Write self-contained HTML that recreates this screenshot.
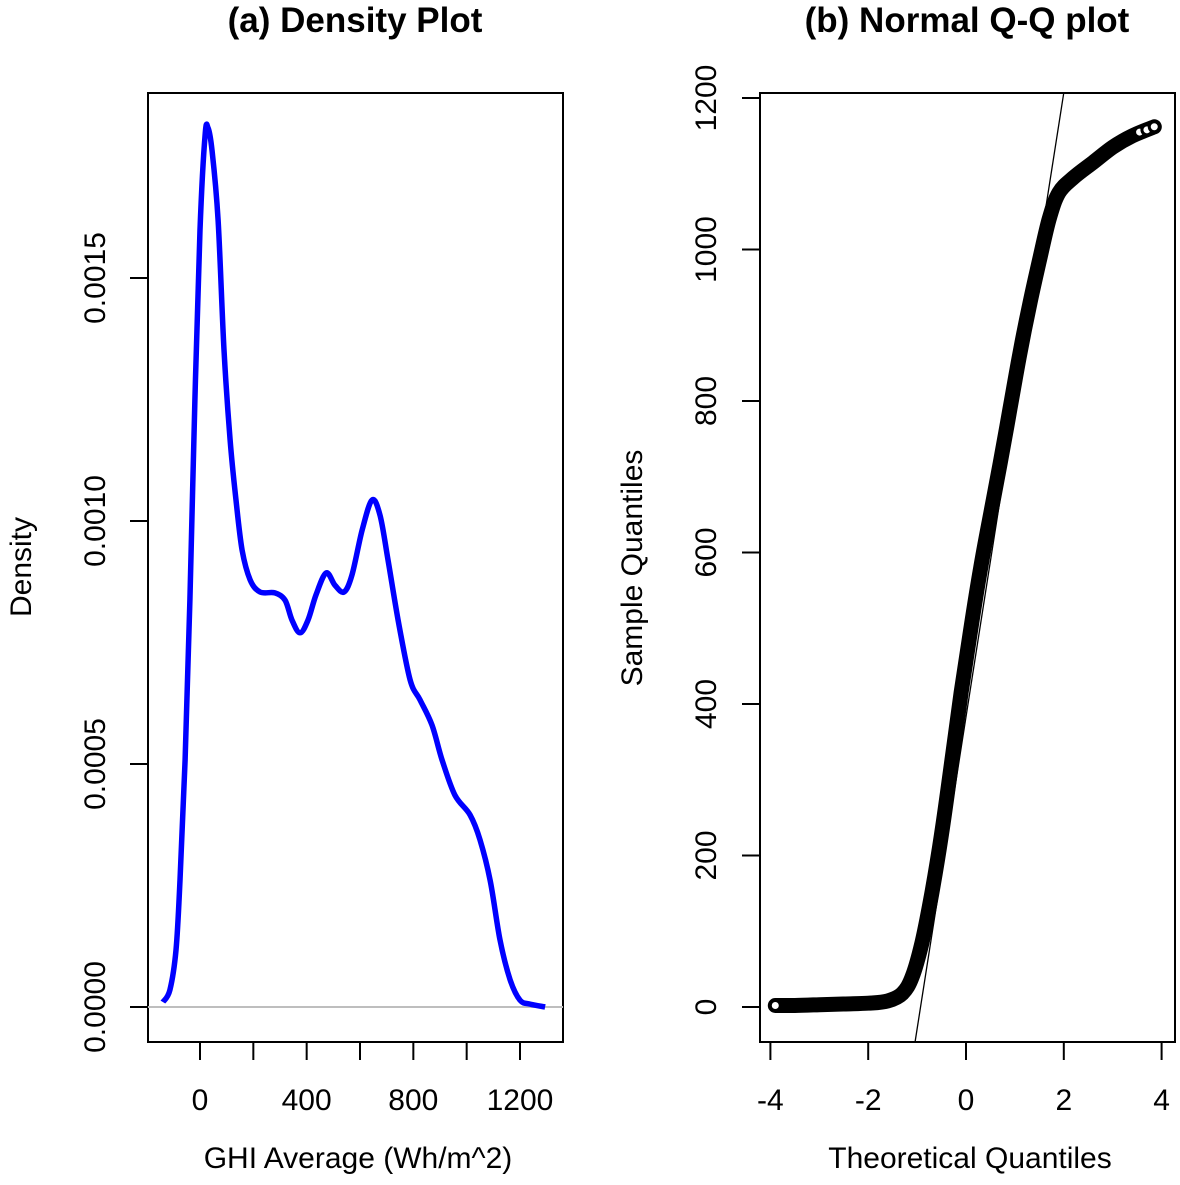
<!DOCTYPE html>
<html><head><meta charset="utf-8"><style>
body{margin:0;background:#fff}
svg text{font-family:"Liberation Sans",Arial,sans-serif;fill:#000}
</style></head><body>
<svg id="c" width="1180" height="1180" viewBox="0 0 1180 1180" xmlns="http://www.w3.org/2000/svg">
<rect width="1180" height="1180" fill="#fff"/>
<text x="355" y="32" font-size="35" font-weight="bold" text-anchor="middle">(a) Density Plot</text>
<text x="967" y="32" font-size="35" font-weight="bold" text-anchor="middle">(b) Normal Q-Q plot</text>
<rect x="148" y="93" width="415" height="949" fill="none" stroke="#000" stroke-width="2"/>
<rect x="760" y="93" width="415" height="949" fill="none" stroke="#000" stroke-width="2"/>
<text x="358" y="1168" font-size="30" text-anchor="middle">GHI Average (Wh/m^2)</text>
<text transform="translate(31,567) rotate(-90)" font-size="30" text-anchor="middle">Density</text>
<text x="970" y="1168" font-size="30" text-anchor="middle">Theoretical Quantiles</text>
<text transform="translate(642,568) rotate(-90)" font-size="30" text-anchor="middle">Sample Quantiles</text>
<g id="L"></g><g id="R"></g>
</svg>
<script>
const ghiValues=[-139,-113,-90,-75,-56,-38,-19,0,19,30,45,68,90,113,135,158,188,225,281,319,345,375,405,435,473,506,540,570,608,645,675,705,743,788,825,870,908,956,1013,1050,1088,1125,1163,1200,1238,1294];
const densityValues=[0.10,0.35,1.17,2.61,5.08,8.37,12.49,15.99,17.94,18.09,17.63,16.19,13.52,11.67,10.43,9.40,8.79,8.54,8.52,8.37,7.96,7.70,7.96,8.48,8.93,8.68,8.54,8.89,9.81,10.43,10.12,9.20,7.96,6.73,6.32,5.80,5.08,4.36,3.95,3.44,2.61,1.38,0.56,0.14,0.06,0.0].map(v=>v*1e-4);
const densityXTicks=[0,200,400,600,800,1000,1200];
const densityXLabels=[0,400,800,1200];
const densityYTicks=[0,0.0005,0.0010,0.0015];
const densityYLabels=["0.0000","0.0005","0.0010","0.0015"];
const theoQ=[-3.9,-3.5,-3,-2.5,-2,-1.6,-1.3,-1.1,-0.9,-0.7,-0.5,-0.3,-0.1,0.1,0.3,0.5,0.7,0.9,1.1,1.3,1.5,1.7,1.9,2.2,2.6,3.0,3.4,3.85];
const sampleQ=[2,2,3,4,5,8,18,40,85,150,228,320,415,500,580,650,718,790,862,927,985,1040,1075,1095,1115,1135,1150,1162];
const endPointsX=[-3.9,3.55,3.7,3.85];
const endPointsY=[2,1155,1158,1162];
const qqXTicks=[-4,-2,0,2,4];
const qqYTicks=[0,200,400,600,800,1000,1200];
const qqLineIntercept=383, qqLineSlope=412;

const NS="http://www.w3.org/2000/svg";
function mk(t,a,p){const e=document.createElementNS(NS,t);for(const k in a)e.setAttribute(k,a[k]);p.appendChild(e);return e;}
function smooth(pts){let d='M'+pts[0][0].toFixed(1)+','+pts[0][1].toFixed(1);
for(let i=0;i<pts.length-1;i++){const p0=pts[Math.max(0,i-1)],p1=pts[i],p2=pts[i+1],p3=pts[Math.min(pts.length-1,i+2)];
const c1=[p1[0]+(p2[0]-p0[0])/6,p1[1]+(p2[1]-p0[1])/6],c2=[p2[0]-(p3[0]-p1[0])/6,p2[1]-(p3[1]-p1[1])/6];
d+=`C${c1[0].toFixed(1)},${c1[1].toFixed(1)} ${c2[0].toFixed(1)},${c2[1].toFixed(1)} ${p2[0].toFixed(1)},${p2[1].toFixed(1)}`;}return d;}
const L=document.getElementById('L'),R=document.getElementById('R');
const lx=v=>200+v*106.67/400, ly=v=>1007-v/0.0005*243;
const rx=v=>966+v*48.9, ry=v=>1007-v*0.7575;

let e=mk('line',{x1:148,x2:563,y1:ly(0),y2:ly(0),stroke:'#bebebe','stroke-width':2},L);


e=mk('path',{d:smooth(ghiValues.map((g,i)=>[lx(g),ly(densityValues[i])])),fill:'none',stroke:'#0000ff','stroke-width':5.5,'stroke-linejoin':'round'},L);


densityXTicks.forEach(v=>{const t=mk('line',{x1:lx(v),x2:lx(v),y1:1042,y2:1060,stroke:'#000','stroke-width':2},L);

});
densityXLabels.forEach(v=>{const t=mk('text',{x:lx(v),y:1110,'font-size':30,'text-anchor':'middle'},L);t.textContent=v;

});
densityYTicks.forEach((v,i)=>{const t=mk('line',{x1:130,x2:148,y1:ly(v),y2:ly(v),stroke:'#000','stroke-width':2},L);


const s=mk('text',{transform:`translate(105,${ly(v)}) rotate(-90)`,'font-size':30,'text-anchor':'middle'},L);s.textContent=densityYLabels[i];

});

e=mk('path',{d:smooth(theoQ.map((q,i)=>[rx(q),ry(sampleQ[i])])),fill:'none',stroke:'#000','stroke-width':15,'stroke-linejoin':'round','stroke-linecap':'round'},R);


endPointsX.forEach((q,i)=>{const c=mk('circle',{cx:rx(q),cy:ry(endPointsY[i]),r:5,fill:'#fff',stroke:'#000','stroke-width':3},R);

});
const yTop=1207,yBot=-46;
e=mk('line',{x1:rx((yBot-qqLineIntercept)/qqLineSlope),y1:ry(yBot),x2:rx((yTop-qqLineIntercept)/qqLineSlope),y2:ry(yTop),stroke:'#000','stroke-width':1.3},R);


qqXTicks.forEach(v=>{const t=mk('line',{x1:rx(v),x2:rx(v),y1:1042,y2:1060,stroke:'#000','stroke-width':2},R);


const s=mk('text',{x:rx(v),y:1110,'font-size':30,'text-anchor':'middle'},R);s.textContent=v;

});
qqYTicks.forEach(v=>{const t=mk('line',{x1:742,x2:760,y1:ry(v),y2:ry(v),stroke:'#000','stroke-width':2},R);


const s=mk('text',{transform:`translate(716,${ry(v)}) rotate(-90)`,'font-size':30,'text-anchor':'middle'},R);s.textContent=v;

});
</script>
</body></html>
